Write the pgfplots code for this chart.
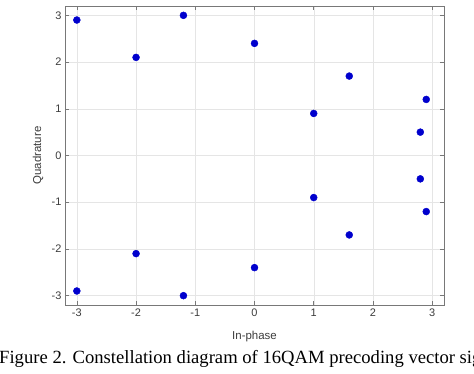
\documentclass[border=0pt]{standalone}
\usepackage{pgfplots}
\pgfplotsset{compat=1.18}
\usepackage{fontspec}
\setmainfont{Liberation Sans}
\newfontfamily\capfont{Liberation Serif}
\definecolor{ptblue}{RGB}{0,0,205}
\definecolor{axgray}{RGB}{120,120,120}
\definecolor{lblgray}{RGB}{60,60,60}
\begin{document}
\begin{tikzpicture}[x=1bp,y=1bp]
\path[use as bounding box, clip] (0,0) rectangle (474,373);
\begin{axis}[at={(65bp,68bp)}, anchor=south west,
  width=379bp, height=299bp, scale only axis,
  xmin=-3.2, xmax=3.2, ymin=-3.2, ymax=3.2,
  xtick={-3,-2,-1,0,1,2,3}, ytick={-3,-2,-1,0,1,2,3},
  grid=major, major grid style={black!10, line width=0.4pt},
  axis line style={axgray, line width=0.7pt},
  tick style={axgray, line width=0.5pt}, tick align=inside, major tick length=4bp,
  ticklabel style={font=\fontsize{11}{13}\selectfont, text=lblgray},
  /pgf/number format/assume math mode=true,
  xlabel={In-phase}, ylabel={Quadrature},
  every axis x label/.style={at={(axis description cs:0.5,-0.107)}, anchor=center},
  every axis y label/.style={at={(axis description cs:-0.0712,0.5)}, rotate=90, anchor=center},
  label style={font=\fontsize{11.5}{13}\selectfont, text=lblgray},
]
\addplot[only marks, mark=*, mark size=3.5bp, mark options={fill=ptblue, draw=ptblue}] table {
x y
-3 2.9
-2 2.1
-1.2 3.0
0 2.4
1.6 1.7
2.9 1.2
1 0.9
2.8 0.5
2.8 -0.5
2.9 -1.2
1 -0.9
1.6 -1.7
0 -2.4
-2 -2.1
-3 -2.9
-1.2 -3.0
};
\end{axis}
\node[anchor=base west, inner sep=0pt, font=\capfont\fontsize{18.7}{20}\selectfont] at (-1,10) {Figure 2. Constellation diagram of 16QAM precoding vector signal};
\end{tikzpicture}
\end{document}
